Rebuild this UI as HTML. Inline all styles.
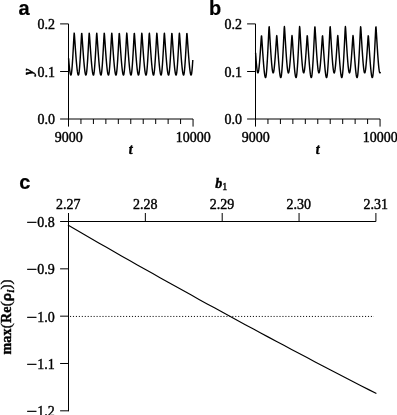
<!DOCTYPE html>
<html><head><meta charset="utf-8"><title>Figure</title>
<style>
html,body{margin:0;padding:0;background:#fff;}
svg{display:block;}
text{font-family:"Liberation Serif","Times New Roman",serif;font-size:14px;fill:#000;stroke:#000;stroke-width:0.4;}
.lab{font-family:"Liberation Sans",Arial,sans-serif;font-weight:bold;font-size:20px;fill:#000;stroke-width:0.2;}
.bi{font-weight:bold;font-style:italic;}
.ax{stroke:#000;stroke-width:1;fill:none;}
.tk{stroke:#000;stroke-width:1;fill:none;}
.w{stroke:#000;stroke-width:1.45;fill:none;stroke-linejoin:round;}
</style></head><body>
<svg width="397" height="415" viewBox="0 0 397 415">
<rect width="397" height="415" fill="#fff"/>

<path class="ax" d="M68.5 23.9V126.6M60.1 119H193.05 V126.6"/>
<path class="tk" d="M60.1 23.9H68.5 M60.1 71.5H68.5"/>
<path class="tk" d="M80.95 119V124M93.41 119V124M105.87 119V124M118.32 119V124M130.78 119V124M143.23 119V124M155.69 119V124M168.14 119V124M180.59 119V124"/>
<text x="55.1" y="28.9" text-anchor="end">0.2</text>
<text x="55.1" y="76.5" text-anchor="end">0.1</text>
<text x="55.1" y="124" text-anchor="end">0.0</text>
<text x="68.7" y="142.4" text-anchor="middle">9000</text>
<text x="193.25" y="142.4" text-anchor="middle">10000</text>
<text class="bi" x="130.7" y="153.9" text-anchor="middle" font-size="12.3">t</text>
<text class="lab" x="18.4" y="14.6">a</text>
<polyline class="w" points="68.6,58.4 68.8,60.86 69,63.2 69.2,65.38 69.4,67.39 69.6,69.21 69.8,70.82 70,72.2 70.2,73.33 70.4,74.2 70.6,74.78 70.8,75.07 71,75.03 71.2,74.54 71.4,73.58 71.6,72.18 71.8,70.37 72,68.2 72.2,65.71 72.4,62.94 72.6,59.93 72.8,56.71 73,53.32 73.2,49.78 73.4,46.13 73.6,42.39 73.8,38.65 74,35.11 74.2,33.1 74.4,34.45 74.6,37.08 74.8,39.98 75,42.93 75.2,45.86 75.4,48.75 75.6,51.57 75.8,54.31 76,56.95 76.2,59.48 76.4,61.89 76.6,64.16 76.8,66.27 77,68.2 77.2,69.94 77.4,71.45 77.6,72.72 77.8,73.74 78,74.48 78.2,74.94 78.4,75.1 78.6,74.88 78.8,74.18 79,73.02 79.2,71.44 79.4,69.47 79.6,67.16 79.8,64.54 80,61.66 80.2,58.56 80.4,55.26 80.6,51.8 80.8,48.2 81,44.51 81.2,40.76 81.4,37.06 81.6,33.86 81.8,33.4 82,35.53 82.2,38.33 82.4,41.26 82.6,44.21 82.8,47.12 83,49.98 83.2,52.77 83.4,55.47 83.6,58.07 83.8,60.55 84,62.9 84.2,65.1 84.4,67.14 84.6,68.98 84.8,70.62 85,72.04 85.2,73.2 85.4,74.1 85.6,74.72 85.8,75.05 86,75.06 86.2,74.63 86.4,73.73 86.6,72.38 86.8,70.63 87,68.5 87.2,66.05 87.4,63.32 87.6,60.34 87.8,57.14 88,53.77 88.2,50.25 88.4,46.61 88.6,42.88 88.8,39.13 89,35.54 89.2,33.15 89.4,34.17 89.6,36.71 89.8,39.6 90,42.55 90.2,45.48 90.4,48.37 90.6,51.2 90.8,53.95 91,56.61 91.2,59.16 91.4,61.59 91.6,63.88 91.8,66.01 92,67.96 92.2,69.72 92.4,71.27 92.6,72.57 92.8,73.62 93,74.4 93.2,74.9 93.4,75.1 93.6,74.93 93.8,74.29 94,73.19 94.2,71.67 94.4,69.75 94.6,67.48 94.8,64.9 95,62.05 95.2,58.97 95.4,55.7 95.6,52.25 95.8,48.68 96,44.99 96.2,41.25 96.4,37.53 96.6,34.2 96.8,33.25 97,35.2 97.2,37.95 97.4,40.88 97.6,43.83 97.8,46.75 98,49.61 98.2,52.41 98.4,55.12 98.6,57.74 98.8,60.23 99,62.6 99.2,64.82 99.4,66.88 99.6,68.75 99.8,70.42 100,71.87 100.2,73.06 100.4,74 100.6,74.65 100.8,75.02 101,75.08 101.2,74.71 101.4,73.87 101.6,72.58 101.8,70.88 102,68.8 102.2,66.39 102.4,63.69 102.6,60.74 102.8,57.57 103,54.22 103.2,50.71 103.4,47.09 103.6,43.37 103.8,39.62 104,35.98 104.2,33.28 104.4,33.9 104.6,36.35 104.8,39.22 105,42.16 105.2,45.1 105.4,48 105.6,50.84 105.8,53.6 106,56.27 106.2,58.84 106.4,61.28 106.6,63.59 106.8,65.74 107,67.72 107.2,69.51 107.4,71.08 107.6,72.42 107.8,73.5 108,74.32 108.2,74.85 108.4,75.09 108.6,74.98 108.8,74.4 109,73.36 109.2,71.89 109.4,70.02 109.6,67.79 109.8,65.25 110,62.43 110.2,59.38 110.4,56.13 110.6,52.71 110.8,49.15 111,45.48 111.2,41.73 111.4,38 111.6,34.57 111.8,33.15 112,34.87 112.2,37.58 112.4,40.49 112.6,43.44 112.8,46.37 113,49.25 113.2,52.05 113.4,54.78 113.6,57.4 113.8,59.92 114,62.3 114.2,64.54 114.4,66.62 114.6,68.52 114.8,70.22 115,71.69 115.2,72.92 115.4,73.89 115.6,74.59 115.8,74.99 116,75.1 116.2,74.79 116.4,74.01 116.6,72.77 116.8,71.12 117,69.09 117.2,66.72 117.4,64.06 117.6,61.13 117.8,57.99 118,54.66 118.2,51.18 118.4,47.56 118.6,43.85 118.8,40.1 119,36.43 119.2,33.48 119.4,33.67 119.6,36 119.8,38.84 120,41.78 120.2,44.72 120.4,47.63 120.6,50.48 120.8,53.25 121,55.93 121.2,58.51 121.4,60.97 121.6,63.3 121.8,65.47 122,67.47 122.2,69.29 122.4,70.89 122.6,72.26 122.8,73.38 123,74.23 123.2,74.8 123.4,75.07 123.6,75.02 123.8,74.5 124,73.52 124.2,72.1 124.4,70.28 124.6,68.1 124.8,65.6 125,62.81 125.2,59.79 125.4,56.56 125.6,53.16 125.8,49.62 126,45.96 126.2,42.22 126.4,38.48 126.6,34.97 126.8,33.1 127,34.56 127.2,37.21 127.4,40.11 127.6,43.06 127.8,45.99 128,48.88 128.2,51.69 128.4,54.43 128.6,57.07 128.8,59.6 129,62 129.2,64.26 129.4,66.36 129.6,68.29 129.8,70.01 130,71.51 130.2,72.78 130.4,73.78 130.6,74.51 130.8,74.95 131,75.1 131.2,74.85 131.4,74.13 131.6,72.96 131.8,71.36 132,69.37 132.2,67.05 132.4,64.42 132.6,61.53 132.8,58.41 133,55.1 133.2,51.64 133.4,48.04 133.6,44.34 133.8,40.59 134,36.9 134.2,33.76 134.4,33.46 134.6,35.65 134.8,38.46 135,41.39 135.2,44.34 135.4,47.25 135.6,50.11 135.8,52.89 136,55.59 136.2,58.18 136.4,60.66 136.6,63 136.8,65.2 137,67.22 137.2,69.06 137.4,70.69 137.6,72.09 137.8,73.25 138,74.13 138.2,74.74 138.4,75.05 138.6,75.05 138.8,74.6 139,73.68 139.2,72.31 139.4,70.54 139.6,68.4 139.8,65.94 140,63.19 140.2,60.2 140.4,56.99 140.6,53.61 140.8,50.09 141,46.44 141.2,42.71 141.4,38.96 141.6,35.39 141.8,33.12 142,34.26 142.2,36.84 142.4,39.73 142.6,42.68 142.8,45.61 143,48.5 143.2,51.33 143.4,54.08 143.6,56.73 143.8,59.27 144,61.7 144.2,63.98 144.4,66.1 144.6,68.05 144.8,69.8 145,71.33 145.2,72.63 145.4,73.67 145.6,74.43 145.8,74.91 146,75.1 146.2,74.91 146.4,74.25 146.6,73.13 146.8,71.59 147,69.65 147.2,67.37 147.4,64.77 147.6,61.92 147.8,58.83 148,55.54 148.2,52.1 148.4,48.51 148.6,44.83 148.8,41.08 149,37.36 149.2,34.08 149.4,33.3 149.6,35.31 149.8,38.08 150,41.01 150.2,43.96 150.4,46.88 150.6,49.74 150.8,52.54 151,55.24 151.2,57.85 151.4,60.34 151.6,62.71 151.8,64.92 152,66.97 152.2,68.83 152.4,70.49 152.6,71.92 152.8,73.11 153,74.03 153.2,74.68 153.4,75.03 153.6,75.08 153.8,74.68 154,73.82 154.2,72.51 154.4,70.79 154.6,68.7 154.8,66.27 155,63.56 155.2,60.6 155.4,57.42 155.6,54.06 155.8,50.55 156,46.92 156.2,43.2 156.4,39.45 156.6,35.83 156.8,33.22 157,33.99 157.2,36.48 157.4,39.35 157.6,42.29 157.8,45.23 158,48.13 158.2,50.97 158.4,53.72 158.6,56.39 158.8,58.95 159,61.39 159.2,63.69 159.4,65.83 159.6,67.8 159.8,69.58 160,71.14 160.2,72.47 160.4,73.55 160.6,74.35 160.8,74.87 161,75.09 161.2,74.96 161.4,74.37 161.6,73.31 161.8,71.81 162,69.92 162.2,67.68 162.4,65.13 162.6,62.3 162.8,59.24 163,55.98 163.2,52.55 163.4,48.99 163.6,45.31 163.8,41.57 164,37.84 164.2,34.44 164.4,33.18 164.6,34.98 164.8,37.71 165,40.63 165.2,43.58 165.4,46.5 165.6,49.37 165.8,52.18 166,54.9 166.2,57.52 166.4,60.03 166.6,62.41 166.8,64.64 167,66.71 167.2,68.6 167.4,70.29 167.6,71.75 167.8,72.97 168,73.93 168.2,74.61 168.4,75 168.6,75.09 168.8,74.76 169,73.96 169.2,72.71 169.4,71.04 169.6,68.99 169.8,66.61 170,63.93 170.2,61 170.4,57.85 170.6,54.51 170.8,51.02 171,47.4 171.2,43.69 171.4,39.93 171.6,36.28 171.8,33.4 172,33.74 172.2,36.12 172.4,38.97 172.6,41.91 172.8,44.85 173,47.76 173.2,50.6 173.4,53.37 173.6,56.05 173.8,58.62 174,61.08 174.2,63.4 174.4,65.56 174.6,67.56 174.8,69.36 175,70.95 175.2,72.31 175.4,73.42 175.6,74.26 175.8,74.82 176,75.08 176.2,75.01 176.4,74.47 176.6,73.47 176.8,72.03 177,70.19 177.2,67.99 177.4,65.48 177.6,62.68 177.8,59.65 178,56.42 178.2,53.01 178.4,49.46 178.6,45.79 178.8,42.05 179,38.32 179.2,34.83 179.4,33.11 179.6,34.66 179.8,37.33 180,40.24 180.2,43.19 180.4,46.12 180.6,49 180.8,51.82 181,54.55 181.2,57.18 181.4,59.71 181.6,62.11 181.8,64.36 182,66.45 182.2,68.37 182.4,70.08 182.6,71.57 182.8,72.83 183,73.82 183.2,74.54 183.4,74.97 183.6,75.1 183.8,74.83 184,74.09 184.2,72.89 184.4,71.28 184.6,69.28 184.8,66.93 185,64.29 185.2,61.39 185.4,58.27 185.6,54.95 185.8,51.48 186,47.87 186.2,44.17 186.4,40.42 186.6,36.73 186.8,33.66 187,33.53 187.2,35.77 187.4,38.59 187.6,41.53 187.8,44.47 188,47.38 188.2,50.24 188.4,53.02 188.6,55.71 188.8,58.3 189,60.77 189.2,63.1 189.4,65.29 189.6,67.31 189.8,69.14 190,70.76 190.2,72.15 190.4,73.29 190.6,74.17 190.8,74.76 191,75.06 191.2,75.04 191.4,74.57 191.6,73.62 191.8,72.24 192,70.45 192.2,68.3 192.4,65.82 192.6,63.06 192.8,60.06"/>
<text class="bi" transform="translate(33.2,71.8) rotate(-90)" text-anchor="middle" font-size="14">y</text>
<path class="ax" d="M255.5 23.9V126.6M247.1 119H380.05 V126.6"/>
<path class="tk" d="M247.1 23.9H255.5 M247.1 71.5H255.5"/>
<path class="tk" d="M267.95 119V124M280.41 119V124M292.87 119V124M305.32 119V124M317.77 119V124M330.23 119V124M342.69 119V124M355.14 119V124M367.6 119V124"/>
<text x="242.1" y="28.9" text-anchor="end">0.2</text>
<text x="242.1" y="76.5" text-anchor="end">0.1</text>
<text x="242.1" y="124" text-anchor="end">0.0</text>
<text x="255.7" y="142.4" text-anchor="middle">9000</text>
<text x="380.25" y="142.4" text-anchor="middle">10000</text>
<text class="bi" x="317.7" y="153.9" text-anchor="middle" font-size="12.3">t</text>
<text class="lab" x="209" y="14.6">b</text>
<polyline class="w" points="255.6,52.81 255.8,55.73 256,58.49 256.2,61.08 256.4,63.48 256.6,65.67 256.8,67.61 257,69.28 257.2,70.66 257.4,71.73 257.6,72.46 257.8,72.84 258,72.87 258.2,72.53 258.4,71.84 258.6,70.8 258.8,69.45 259,67.81 259.2,65.92 259.4,63.79 259.6,61.45 259.8,58.94 260,56.28 260.2,53.49 260.4,50.58 260.6,47.59 260.8,44.54 261,41.45 261.2,38.45 261.4,35.97 261.6,35.92 261.8,38.27 262,41.23 262.2,44.3 262.4,47.37 262.6,50.39 262.8,53.35 263,56.23 263.2,59.01 263.4,61.67 263.6,64.2 263.8,66.57 264,68.77 264.2,70.78 264.4,72.57 264.6,74.12 264.8,75.41 265,76.42 265.2,77.13 265.4,77.52 265.6,77.58 265.8,77.19 266,76.3 266.2,74.95 266.4,73.16 266.6,70.98 266.8,68.43 267,65.56 267.2,62.4 267.4,59.01 267.6,55.39 267.8,51.6 268,47.65 268.2,43.58 268.4,39.41 268.6,35.2 268.8,31.06 269,27.49 269.2,26.76 269.4,29.14 269.6,32.36 269.8,35.74 270,39.12 270.2,42.47 270.4,45.74 270.6,48.93 270.8,52 271,54.95 271.2,57.76 271.4,60.4 271.6,62.85 271.8,65.1 272,67.11 272.2,68.86 272.4,70.32 272.6,71.47 272.8,72.29 273,72.77 273.2,72.9 273.4,72.66 273.6,72.06 273.8,71.11 274,69.85 274.2,68.28 274.4,66.45 274.6,64.38 274.8,62.1 275,59.64 275.2,57.01 275.4,54.25 275.6,51.38 275.8,48.41 276,45.36 276.2,42.28 276.4,39.24 276.6,36.52 276.8,35.59 277,37.54 277.2,40.41 277.4,43.46 277.6,46.54 277.8,49.58 278,52.56 278.2,55.46 278.4,58.27 278.6,60.96 278.8,63.53 279,65.94 279.2,68.2 279.4,70.26 279.6,72.11 279.8,73.73 280,75.09 280.2,76.18 280.4,76.97 280.6,77.44 280.8,77.6 281,77.34 281.2,76.59 281.4,75.36 281.6,73.69 281.8,71.6 282,69.15 282.2,66.36 282.4,63.28 282.6,59.95 282.8,56.39 283,52.64 283.2,48.73 283.4,44.69 283.6,40.54 283.8,36.34 284,32.16 284.2,28.32 284.4,26.52 284.6,28.36 284.8,31.46 285,34.82 285.2,38.21 285.4,41.57 285.6,44.87 285.8,48.08 286,51.18 286.2,54.17 286.4,57.02 286.6,59.7 286.8,62.21 287,64.52 287.2,66.59 287.4,68.41 287.6,69.95 287.8,71.19 288,72.1 288.2,72.68 288.4,72.9 288.6,72.76 288.8,72.25 289,71.4 289.2,70.22 289.4,68.73 289.6,66.97 289.8,64.96 290,62.74 290.2,60.32 290.4,57.74 290.6,55.01 290.8,52.16 291,49.22 291.2,46.19 291.4,43.12 291.6,40.05 291.8,37.18 292,35.5 292.2,36.86 292.4,39.6 292.6,42.63 292.8,45.71 293,48.76 293.2,51.76 293.4,54.69 293.6,57.52 293.8,60.25 294,62.85 294.2,65.31 294.4,67.61 294.6,69.72 294.8,71.63 295,73.32 295.2,74.75 295.4,75.91 295.6,76.78 295.8,77.35 296,77.59 296.2,77.46 296.4,76.84 296.6,75.74 296.8,74.18 297,72.21 297.2,69.85 297.4,67.14 297.6,64.14 297.8,60.87 298,57.37 298.2,53.67 298.4,49.8 298.6,45.79 298.8,41.67 299,37.48 299.2,33.28 299.4,29.28 299.6,26.58 299.8,27.65 300,30.58 300.2,33.91 300.4,37.3 300.6,40.67 300.8,43.98 301,47.22 301.2,50.36 301.4,53.38 301.6,56.26 301.8,59 302,61.55 302.2,63.91 302.4,66.05 302.6,67.95 302.8,69.56 303,70.89 303.2,71.89 303.4,72.56 303.6,72.87 303.8,72.83 304,72.43 304.2,71.67 304.4,70.57 304.6,69.16 304.8,67.47 305,65.53 305.2,63.36 305.4,60.99 305.6,58.45 305.8,55.76 306,52.94 306.2,50.02 306.4,47.02 306.6,43.95 306.8,40.87 307,37.91 307.2,35.69 307.4,36.26 307.6,38.81 307.8,41.81 308,44.88 308.2,47.94 308.4,50.96 308.6,53.91 308.8,56.77 309,59.52 309.2,62.16 309.4,64.66 309.6,67 309.8,69.17 310,71.14 310.2,72.89 310.4,74.39 310.6,75.63 310.8,76.58 311,77.23 311.2,77.56 311.4,77.54 311.6,77.06 311.8,76.08 312,74.65 312.2,72.78 312.4,70.52 312.6,67.91 312.8,64.98 313,61.78 313.2,58.34 313.4,54.69 313.6,50.86 313.8,46.89 314,42.79 314.2,38.61 314.4,34.4 314.6,30.31 314.8,27.02 315,27.06 315.2,29.73 315.4,33 315.6,36.38 315.8,39.76 316,43.1 316.2,46.35 316.4,49.52 316.6,52.57 316.8,55.5 317,58.27 317.2,60.88 317.4,63.3 317.6,65.5 317.8,67.46 318,69.16 318.2,70.56 318.4,71.65 318.6,72.41 318.8,72.82 319,72.88 319.2,72.57 319.4,71.91 319.6,70.9 319.8,69.57 320,67.96 320.2,66.08 320.4,63.96 320.6,61.65 320.8,59.15 321,56.5 321.2,53.72 321.4,50.82 321.6,47.83 321.8,44.78 322,41.7 322.2,38.68 322.4,36.11 322.6,35.8 322.8,38.05 323,40.98 323.2,44.05 323.4,47.12 323.6,50.15 323.8,53.12 324,56 324.2,58.79 324.4,61.46 324.6,64 324.8,66.39 325,68.6 325.2,70.63 325.4,72.44 325.6,74.01 325.8,75.32 326,76.35 326.2,77.08 326.4,77.5 326.6,77.59 326.8,77.24 327,76.39 327.2,75.08 327.4,73.32 327.6,71.17 327.8,68.64 328,65.8 328.2,62.67 328.4,59.29 328.6,55.69 328.8,51.91 329,47.97 329.2,43.91 329.4,39.75 329.6,35.54 329.8,31.39 330,27.72 330.2,26.66 330.4,28.91 330.6,32.09 330.8,35.46 331,38.85 331.2,42.2 331.4,45.48 331.6,48.68 331.8,51.76 332,54.72 332.2,57.54 332.4,60.2 332.6,62.67 332.8,64.93 333,66.96 333.2,68.73 333.4,70.21 333.6,71.39 333.8,72.24 334,72.75 334.2,72.9 334.4,72.69 334.6,72.12 334.8,71.2 335,69.96 335.2,68.42 335.4,66.61 335.6,64.56 335.8,62.29 336,59.84 336.2,57.23 336.4,54.48 336.6,51.61 336.8,48.65 337,45.61 337.2,42.53 337.4,39.48 337.6,36.7 337.8,35.54 338,37.33 338.2,40.17 338.4,43.22 338.6,46.29 338.8,49.34 339,52.33 339.2,55.23 339.4,58.05 339.6,60.75 339.8,63.33 340,65.76 340.2,68.02 340.4,70.1 340.6,71.97 340.8,73.61 341,74.99 341.2,76.1 341.4,76.92 341.6,77.42 341.8,77.6 342,77.38 342.2,76.67 342.4,75.48 342.6,73.84 342.8,71.79 343,69.36 343.2,66.6 343.4,63.54 343.6,60.22 343.8,56.68 344,52.95 344.2,49.05 344.4,45.02 344.6,40.88 344.8,36.68 345,32.49 345.2,28.6 345.4,26.5 345.6,28.14 345.8,31.2 346,34.55 346.2,37.94 346.4,41.3 346.6,44.6 346.8,47.82 347,50.94 347.2,53.94 347.4,56.79 347.6,59.5 347.8,62.02 348,64.34 348.2,66.43 348.4,68.27 348.6,69.84 348.8,71.1 349,72.04 349.2,72.64 349.4,72.89 349.6,72.78 349.8,72.31 350,71.48 350.2,70.33 350.4,68.86 350.6,67.12 350.8,65.13 351,62.92 351.2,60.52 351.4,57.95 351.6,55.23 351.8,52.4 352,49.46 352.2,46.44 352.4,43.36 352.6,40.29 352.8,37.39 353,35.53 353.2,36.67 353.4,39.37 353.6,42.39 353.8,45.47 354,48.52 354.2,51.53 354.4,54.46 354.6,57.3 354.8,60.03 355,62.65 355.2,65.12 355.4,67.43 355.6,69.56 355.8,71.49 356,73.19 356.2,74.65 356.4,75.83 356.6,76.73 356.8,77.31 357,77.58 357.2,77.49 357.4,76.91 357.6,75.84 357.8,74.32 358,72.38 358.2,70.05 358.4,67.37 358.6,64.39 358.8,61.14 359,57.66 359.2,53.97 359.4,50.12 359.6,46.12 359.8,42 360,37.81 360.2,33.61 360.4,29.58 360.6,26.68 360.8,27.46 361,30.33 361.2,33.64 361.4,37.03 361.6,40.4 361.8,43.72 362,46.96 362.2,50.11 362.4,53.14 362.6,56.04 362.8,58.78 363,61.36 363.2,63.73 363.4,65.89 363.6,67.8 363.8,69.45 364,70.79 364.2,71.82 364.4,72.52 364.6,72.86 364.8,72.85 365,72.47 365.2,71.74 365.4,70.67 365.6,69.29 365.8,67.62 366,65.69 366.2,63.54 366.4,61.18 366.6,58.66 366.8,55.98 367,53.17 367.2,50.26 367.4,47.26 367.6,44.2 367.8,41.12 368,38.13 368.2,35.79 368.4,36.11 368.6,38.58 368.8,41.56 369,44.63 369.2,47.7 369.4,50.72 369.6,53.67 369.8,56.54 370,59.31 370.2,61.95 370.4,64.46 370.6,66.82 370.8,69 371,70.99 371.2,72.76 371.4,74.28 371.6,75.54 371.8,76.51 372,77.19 372.2,77.54 372.4,77.56 372.6,77.11 372.8,76.18 373,74.78 373.2,72.94 373.4,70.71 373.6,68.13 373.8,65.22 374,62.04 374.2,58.62 374.4,54.99 374.6,51.17 374.8,47.21 375,43.12 375.2,38.95 375.4,34.74 375.6,30.63 375.8,27.2 376,26.92 376.2,29.48 376.4,32.73 376.6,36.11 376.8,39.49 377,42.83 377.2,46.1 377.4,49.27 377.6,52.33 377.8,55.27 378,58.06 378.2,60.68 378.4,63.11 378.6,65.33 378.8,67.31 379,69.03 379.2,70.46 379.4,71.58 379.6,72.36 379.8,72.8 380,72.89 380.2,72.61 380.4,71.97"/>
<text class="lab" x="19.3" y="188.8">c</text>
<path class="ax" d="M68.5 213V411.3M60.1 221.5H375.9"/>
<path class="tk" d="M145.35 213V221.5M222.2 213V221.5M299.05 213V221.5M375.9 213V221.5M60.1 268.83H68.5M60.1 316.16H68.5M60.1 363.49H68.5M60.1 410.82H68.5"/>
<text x="68.3" y="209.2" text-anchor="middle">2.27</text>
<text x="145.15" y="209.2" text-anchor="middle">2.28</text>
<text x="222" y="209.2" text-anchor="middle">2.29</text>
<text x="298.85" y="209.2" text-anchor="middle">2.30</text>
<text x="375.7" y="209.2" text-anchor="middle">2.31</text>
<text x="26.7" y="227"><tspan textLength="10.5" lengthAdjust="spacingAndGlyphs">−</tspan>0.8</text>
<text x="26.7" y="274.33"><tspan textLength="10.5" lengthAdjust="spacingAndGlyphs">−</tspan>0.9</text>
<text x="26.7" y="321.66"><tspan textLength="10.5" lengthAdjust="spacingAndGlyphs">−</tspan>1.0</text>
<text x="26.7" y="368.99"><tspan textLength="10.5" lengthAdjust="spacingAndGlyphs">−</tspan>1.1</text>
<text x="26.7" y="416.32"><tspan textLength="10.5" lengthAdjust="spacingAndGlyphs">−</tspan>1.2</text>
<text class="bi" x="215.3" y="187.8" font-size="13.5">b<tspan font-style="normal" font-weight="normal" font-size="10" dy="2">1</tspan></text>
<path d="M70 316.45H374" stroke="#111" stroke-width="1" stroke-dasharray="1.1 1.85" fill="none"/>
<polyline class="w" style="stroke-width:1.15" points="67.9,225.03 75.61,229.52 83.33,233.99 91.04,238.45 98.75,242.89 106.46,247.32 114.18,251.73 121.89,256.14 129.6,260.52 137.31,264.9 145.03,269.26 152.74,273.6 160.45,277.93 168.16,282.25 175.88,286.56 183.59,290.85 191.3,295.12 199.01,299.38 206.73,303.63 214.44,307.87 222.15,312.09 229.86,316.29 237.58,320.49 245.29,324.67 253,328.83 260.71,332.98 268.43,337.12 276.14,341.24 283.85,345.35 291.56,349.45 299.28,353.53 306.99,357.59 314.7,361.65 322.41,365.69 330.12,369.71 337.84,373.72 345.55,377.72 353.26,381.71 360.97,385.68 368.69,389.63 376.4,393.57"/>
<text transform="translate(11.3,316.9) rotate(-90)" text-anchor="middle" font-size="13.6" stroke-width="0.1" letter-spacing="0.2"><tspan font-weight="bold">max</tspan><tspan font-size="15">(</tspan><tspan font-weight="bold">Re</tspan><tspan font-size="15">(</tspan><tspan font-family="'Liberation Sans',sans-serif" font-weight="bold" font-size="13.5">ρ</tspan><tspan font-style="italic" font-weight="bold" font-size="10" dy="2.8">i</tspan><tspan dy="-2.8" font-size="15">))</tspan></text>
</svg></body></html>
